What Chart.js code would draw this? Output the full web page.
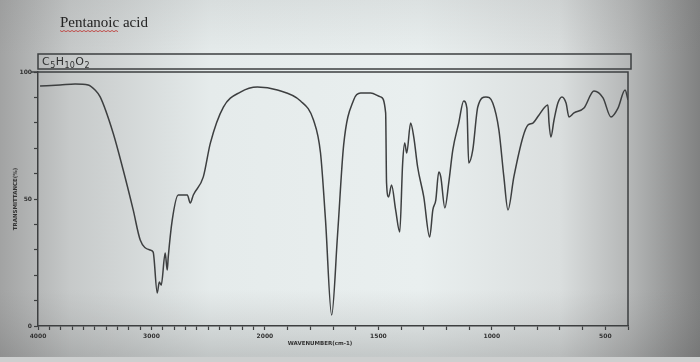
<!DOCTYPE html>
<html>
<head>
<meta charset="utf-8">
<script src="https://cdn.jsdelivr.net/npm/chart.js@4.4.1/dist/chart.umd.min.js"></script>
<style>
    html, body { margin: 0; padding: 0; background: #c9cccb; }
    #irChart { display: block; }
</style>
</head>
<body>
<canvas id="irChart" width="700" height="362"></canvas>
<script>
// IR spectrum of pentanoic acid
const wavenumbers = [3982, 3806, 3673, 3558, 3497, 3452, 3338, 3249, 3161, 3099, 3011, 2985, 2949, 2931, 2914, 2879, 2861, 2852, 2817, 2764, 2684, 2658, 2631, 2543, 2481, 2366, 2216, 2066,
    1945, 1843, 1786, 1755, 1733, 1706, 1680, 1653, 1609, 1578, 1534, 1490, 1468, 1464, 1455, 1442, 1424, 1406, 1393, 1384, 1375, 1358, 1344, 1327, 1300, 1274, 1260, 1247, 1234, 1225,
    1207, 1190, 1172, 1146, 1124, 1110, 1102, 1084, 1062, 1026, 996, 969, 947, 929, 903, 863, 841, 819, 792, 753, 748, 740, 726, 709, 691, 673, 660, 638, 594, 550, 510, 475, 444, 413, 400];
const transmittance = [94.5, 94.9, 95.3, 94.9, 92.9, 90.2, 76.0, 61.4, 45.7, 33.9, 29.9, 29.1, 13.0, 17.3, 16.1, 28.7, 22.0, 27.2, 41.7, 51.6, 51.6, 48.4, 51.6, 58.7, 72.0, 86.2, 92.1, 94.1,
    92.9, 88.6, 81.1, 68.1, 41.7, 4.3, 35.8, 71.3, 89.0, 91.7, 91.7, 90.2, 83.9, 56.3, 50.8, 55.5, 45.7, 37.0, 64.2, 72.0, 68.1, 79.9, 74.4, 62.6, 50.8, 35.0, 45.7, 49.6, 60.6, 58.7,
    46.5, 56.3, 69.3, 79.9, 88.6, 85.8, 64.2, 69.3, 86.2, 90.2, 87.8, 77.2, 58.7, 45.7, 58.7, 74.4, 79.1, 79.9, 83.1, 87.0, 79.9, 74.4, 81.1, 87.8, 90.2, 87.8, 82.3, 83.9, 85.8, 92.5, 89.8, 82.3, 85.8, 92.9, 89.0];

const xLabelWaves = [4000, 3000, 2000, 1500, 1000, 500];
const yLabelValues = [0, 50, 100];

const chartTitle = 'Pentanoic acid';
const xTitle = 'WAVENUMBER(cm-1)';
const yTitle = 'TRANSMITTANCE(%)';

// the paper uses half scale above 2000 cm-1
function toPos(w) {
    return w >= 2000 ? (4000 - w) / 2 : 1000 + (2000 - w);
}
function toWave(p) {
    return p <= 1000 ? 4000 - 2 * p : 2000 - (p - 1000);
}

const tickWaves = [];
for (let w = 4000; w >= 400; w -= 100) tickWaves.push(w);

const points = wavenumbers.map((w, i) => ({ x: toPos(w), y: transmittance[i] }));

const ink = '#3d3f40';

const paperPlugin = {
    id: 'paper',
    beforeDraw(chart) {
        const ctx = chart.ctx;
        const w = chart.width, h = chart.height;
        ctx.save();
        const g = ctx.createLinearGradient(0, 0, w, 0);
        g.addColorStop(0, '#a2a3a3');
        g.addColorStop(0.1, '#c6c9c9');
        g.addColorStop(0.3, '#e5ebeb');
        g.addColorStop(0.6, '#e9efef');
        g.addColorStop(0.8, '#dadede');
        g.addColorStop(0.9, '#b4b6b6');
        g.addColorStop(1, '#808181');
        ctx.fillStyle = g;
        ctx.fillRect(0, 0, w, h);
        const v = ctx.createLinearGradient(0, 0, 0, h);
        v.addColorStop(0, 'rgba(120,120,120,0.12)');
        v.addColorStop(0.15, 'rgba(120,120,120,0)');
        v.addColorStop(0.8, 'rgba(120,120,120,0)');
        v.addColorStop(0.98, 'rgba(90,90,90,0.25)');
        ctx.fillStyle = v;
        ctx.fillRect(0, 0, w, h);
        // light strip along the bottom edge of the photo
        ctx.fillStyle = '#cdcfcf';
        ctx.fillRect(0, 357, w, h - 357);
        ctx.restore();
    },
    afterDraw(chart) {
        const ctx = chart.ctx;
        const a = chart.chartArea;
        ctx.save();
        ctx.strokeStyle = ink;
        ctx.lineWidth = 1.5;
        // frame top and right
        ctx.beginPath();
        ctx.moveTo(31, a.top);
        ctx.lineTo(a.right, a.top);
        ctx.lineTo(a.right, a.bottom);
        ctx.stroke();
        // formula box
        ctx.strokeRect(a.left, 54, a.right + 3 - a.left, 15);

        ctx.fillStyle = '#2f3030';
        ctx.textBaseline = 'alphabetic';
        let x = a.left + 4;
        const parts = [['C', 0], ['5', 1], ['H', 0], ['10', 1], ['O', 0], ['2', 1]];
        parts.forEach(([t, sub]) => {
            ctx.font = sub ? '8px "DejaVu Sans"' : '11px "DejaVu Sans"';
            ctx.fillText(t, x, sub ? 68 : 65);
            x += ctx.measureText(t).width + 0.5;
        });

        // title with spell-check squiggle
        ctx.font = '15px "Liberation Serif"';
        ctx.fillStyle = '#222';
        ctx.fillText(chartTitle, 60, 27);
        const wordW = ctx.measureText('Pentanoic').width;
        ctx.strokeStyle = '#c0504d';
        ctx.lineWidth = 1;
        ctx.beginPath();
        for (let i = 0; i <= wordW; i += 2) {
            const yy = 30.5 + (i % 4 === 0 ? 0 : 1.2);
            if (i === 0) ctx.moveTo(60 + i, yy); else ctx.lineTo(60 + i, yy);
        }
        ctx.stroke();

        // x axis title
        ctx.fillStyle = '#333';
        ctx.font = 'bold 5.5px "DejaVu Sans"';
        ctx.textAlign = 'center';
        ctx.fillText(xTitle, 320, 345);
        ctx.restore();
    }
};

new Chart(document.getElementById('irChart'), {
    type: 'line',
    data: {
        datasets: [{
            data: points,
            borderColor: ink,
            borderWidth: 1.5,
            pointRadius: 0,
            fill: false,
            cubicInterpolationMode: 'monotone'
        }]
    },
    options: {
        responsive: false,
        animation: false,
        events: [],
        layout: {
            autoPadding: false,
            padding: { top: 72, right: 72, bottom: 0, left: 0 }
        },
        plugins: {
            legend: { display: false },
            tooltip: { enabled: false }
        },
        scales: {
            x: {
                type: 'linear',
                min: 0,
                max: toPos(400),
                afterFit(scale) { scale.height = 36; },
                afterBuildTicks(scale) {
                    scale.ticks = tickWaves.map(w => ({ value: toPos(w) }));
                },
                ticks: {
                    autoSkip: false,
                    maxRotation: 0,
                    padding: 3,
                    color: '#333',
                    font: { family: 'DejaVu Sans', size: 6, weight: 'bold' },
                    callback(val) {
                        const w = Math.round(toWave(val));
                        return xLabelWaves.includes(w) ? String(w) : '';
                    }
                },
                grid: { drawOnChartArea: false, tickLength: 4, tickColor: ink, tickWidth: 1.2 },
                border: { color: ink, width: 1.5 }
            },
            y: {
                min: 0,
                max: 100,
                afterFit(scale) { scale.width = 38; },
                ticks: {
                    stepSize: 10,
                    padding: 2,
                    color: '#333',
                    font: { family: 'DejaVu Sans', size: 6, weight: 'bold' },
                    callback(val) {
                        return yLabelValues.includes(val) ? String(val) : '';
                    }
                },
                title: {
                    display: true,
                    text: yTitle,
                    color: '#333',
                    font: { family: 'DejaVu Sans', size: 5.5, weight: 'bold' },
                    padding: { top: 12, bottom: 0 }
                },
                grid: { drawOnChartArea: false, tickLength: 4, tickColor: ink, tickWidth: 1.2 },
                border: { color: ink, width: 1.5 }
            }
        }
    },
    plugins: [paperPlugin]
});
</script>
</body>
</html>
